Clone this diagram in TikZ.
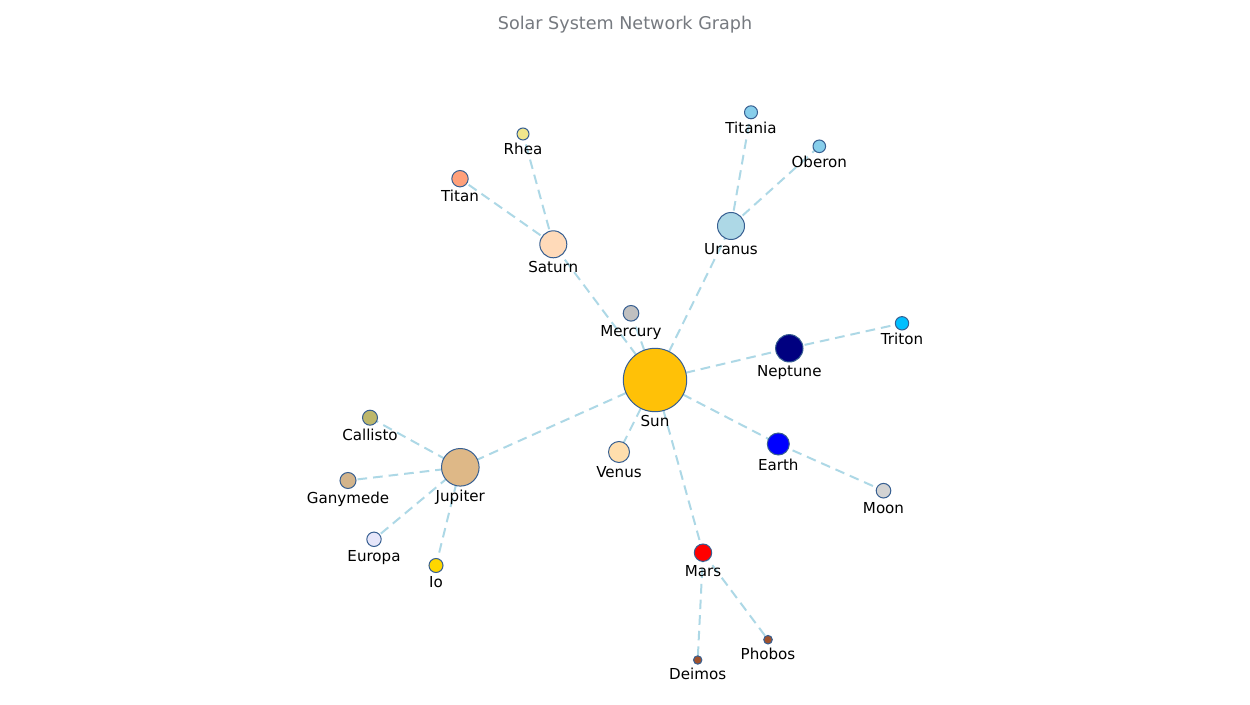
\documentclass[tikz,border=0pt]{standalone}
\usepackage{fontspec}
\setmainfont{DejaVu Sans}
\usetikzlibrary{backgrounds}
\definecolor{bordercol}{RGB}{55,95,145}
\definecolor{edgecol}{HTML}{ADD8E6}
\definecolor{titlecol}{RGB}{118,122,128}
\definecolor{csun}{HTML}{FFC107}
\definecolor{cmercury}{HTML}{C0C0C0}
\definecolor{cvenus}{HTML}{FFDEAD}
\definecolor{cearth}{HTML}{0000FF}
\definecolor{cmoon}{HTML}{D3D3D3}
\definecolor{cmars}{HTML}{FF0000}
\definecolor{csienna}{HTML}{A0522D}
\definecolor{cjupiter}{HTML}{DEB887}
\definecolor{cio}{HTML}{FFD700}
\definecolor{ceuropa}{HTML}{E6E6FA}
\definecolor{cganymede}{HTML}{D2B48C}
\definecolor{ccallisto}{HTML}{BDB76B}
\definecolor{csaturn}{HTML}{FFDAB9}
\definecolor{ctitan}{HTML}{FFA07A}
\definecolor{crhea}{HTML}{F0E68C}
\definecolor{curanus}{HTML}{ADD8E6}
\definecolor{cskyblue}{HTML}{87CEEB}
\definecolor{cneptune}{HTML}{000080}
\definecolor{ctriton}{HTML}{00BFFF}
\newcommand\addbody[6]{%
  \node[body, fill=#5, minimum size=#4*0.04cm] (#1) at (#2,#3) {};
  \node[lbl] (#1-l) at (#2,{#3+#4+15}) {#6};}
\begin{document}
\begin{tikzpicture}[x=0.02cm,y=-0.02cm,
  body/.style={circle,draw=bordercol,line width=0.57pt,inner sep=0pt},
  lbl/.style={anchor=base,inner sep=0pt,font=\fontsize{8.6}{10}\selectfont,text=black},
  link/.style={draw=edgecol,line width=1.13pt,dash pattern=on 5.5pt off 3.4pt},
  ttl/.style={anchor=base,inner sep=0pt,font=\fontsize{10}{12}\selectfont,text=titlecol}]
\useasboundingbox (0,0) rectangle (1250,705);
\node[ttl] (title) at (625,30) {Solar System Network Graph};
\addbody{sun}{655}{380}{31.7}{csun}{Sun}
\addbody{mercury}{631}{313.3}{7.8}{cmercury}{Mercury}
\addbody{venus}{619}{452}{10.5}{cvenus}{Venus}
\addbody{earth}{778.3}{444}{11}{cearth}{Earth}
\addbody{moon}{883.5}{490.7}{7.3}{cmoon}{Moon}
\addbody{mars}{703}{552.7}{8.7}{cmars}{Mars}
\addbody{phobos}{768}{639.7}{4.3}{csienna}{Phobos}
\addbody{deimos}{697.7}{660}{4.2}{csienna}{Deimos}
\addbody{jupiter}{460.3}{467.3}{18.8}{cjupiter}{Jupiter}
\addbody{io}{436}{565.5}{7}{cio}{Io}
\addbody{europa}{374}{539.3}{7.2}{ceuropa}{Europa}
\addbody{ganymede}{348}{480.5}{8}{cganymede}{Ganymede}
\addbody{callisto}{370}{417.7}{7.5}{ccallisto}{Callisto}
\addbody{saturn}{553.3}{244.3}{13.5}{csaturn}{Saturn}
\addbody{titan}{460}{178.7}{8.2}{ctitan}{Titan}
\addbody{rhea}{523}{134}{6}{crhea}{Rhea}
\addbody{uranus}{731}{226}{13.5}{curanus}{Uranus}
\addbody{titania}{751}{112.3}{6.5}{cskyblue}{Titania}
\addbody{oberon}{819.3}{146.3}{6.3}{cskyblue}{Oberon}
\addbody{neptune}{789.3}{348.3}{13.7}{cneptune}{Neptune}
\addbody{triton}{902}{323.3}{6.7}{ctriton}{Triton}
\begin{pgfonlayer}{background}
\fill[white] (0,0) rectangle (1250,705);
\foreach \a/\b in {sun/mercury,sun/venus,sun/earth,sun/mars,sun/jupiter,sun/saturn,sun/uranus,sun/neptune,
  earth/moon,mars/phobos,mars/deimos,jupiter/io,jupiter/europa,jupiter/ganymede,jupiter/callisto,
  saturn/titan,saturn/rhea,uranus/titania,uranus/oberon,neptune/triton}
  \draw[link] (\a.center) -- (\b.center);
\end{pgfonlayer}
\end{tikzpicture}
\end{document}
